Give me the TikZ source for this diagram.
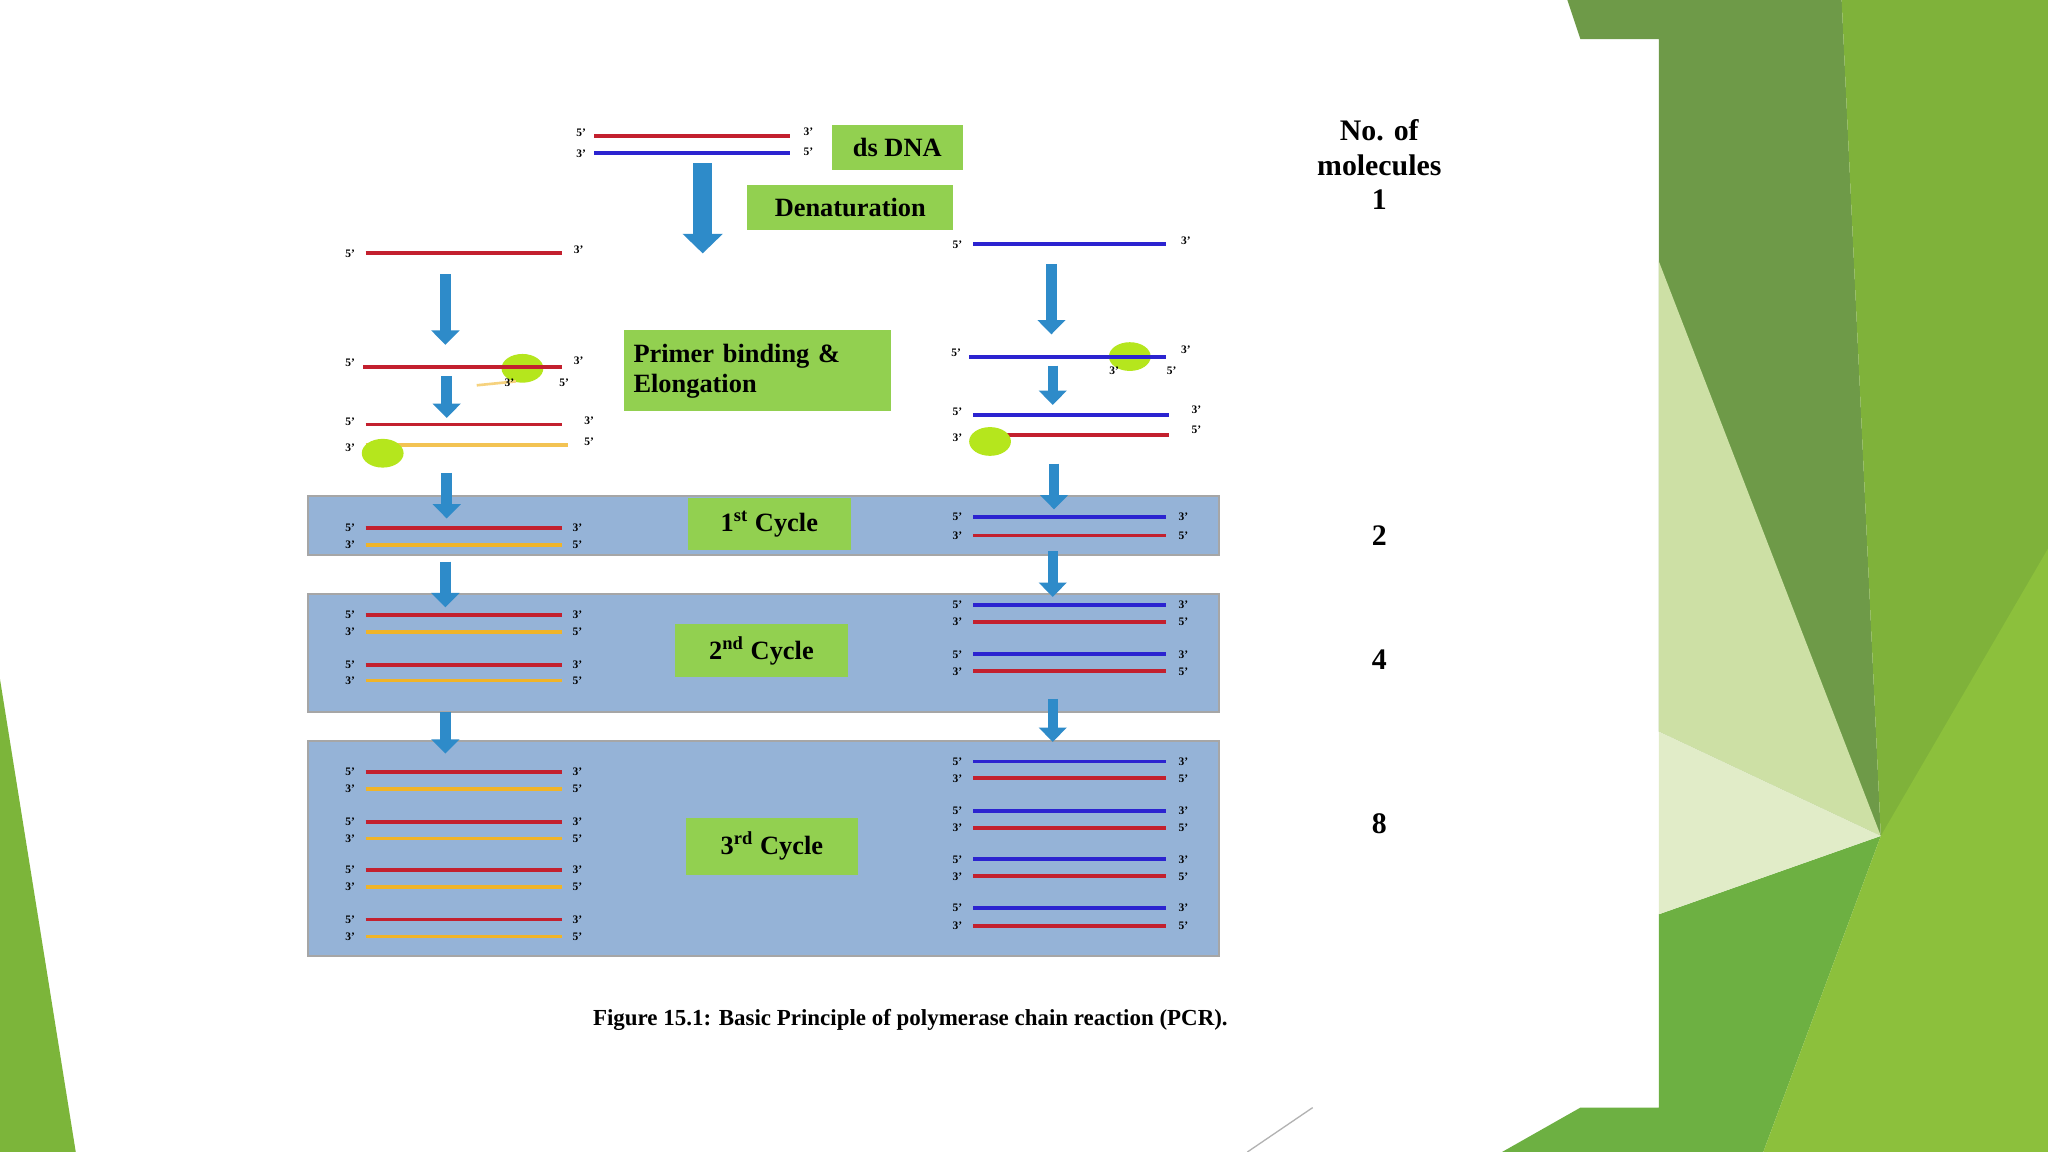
\documentclass[tikz,border=0pt]{standalone}
\usepackage{fontspec}
\setmainfont{Liberation Serif}
\usetikzlibrary{arrows.meta}
\definecolor{sred}{HTML}{C3202E}
\definecolor{sblue}{HTML}{2B23D0}
\definecolor{syel}{HTML}{F0B428}
\definecolor{lbl}{HTML}{92D050}
\definecolor{cyc}{HTML}{95B3D7}
\definecolor{arr}{HTML}{2E8BC9}
\definecolor{primer}{HTML}{B5E61D}
\definecolor{gA}{RGB}{124,181,58}
\definecolor{gB}{RGB}{110,154,72}
\definecolor{gC}{RGB}{127,178,58}
\definecolor{gD}{RGB}{205,224,165}
\definecolor{gE}{RGB}{109,176,66}
\definecolor{gF}{RGB}{140,192,60}
\definecolor{gG}{RGB}{225,236,200}
\tikzset{
 st/.style={line width=0.06cm},
 tag/.style={font=\bfseries\fontsize{5}{5}\selectfont,inner sep=0pt},
 lab/.style={fill=lbl,font=\bfseries\fontsize{11.5}{13}\selectfont,inner sep=0pt,align=left},
 dn/.style={arr,line width=0.16cm,-{Triangle[width=0.42cm,length=0.22cm]}},
 cbox/.style={fill=cyc,draw=gray!70,line width=0.03cm},
 prim/.style={fill=primer,draw=none},
 num/.style={font=\bfseries\fontsize{13}{15}\selectfont,align=center}
}
\newcommand\strnd[4]{\draw[st,#4] (#1,#3) -- (#2,#3);}
\newcommand\lpr[2]{\strnd{280}{430}{#1}{sred}\strnd{280}{430}{#2}{syel}
 \node[tag] at (268,#1) {5'};\node[tag] at (268,#2) {3'};
 \node[tag] at (442,#1) {3'};\node[tag] at (442,#2) {5'};}
\newcommand\rpr[2]{\strnd{745}{893}{#1}{sblue}\strnd{745}{893}{#2}{sred}
 \node[tag] at (733,#1) {5'};\node[tag] at (733,#2) {3'};
 \node[tag] at (906,#1) {3'};\node[tag] at (906,#2) {5'};}
\begin{document}
\begin{tikzpicture}[x=0.02cm,y=-0.02cm]
\useasboundingbox (0,0) rectangle (1568,882);
\fill[white] (0,0) rectangle (1568,882);
% decorations
\fill[gA] (0,520) -- (58,882) -- (0,882) -- cycle;
\fill[gB] (1200,0) -- (1410,0) -- (1440,640) -- (1270,560) -- (1270,30) -- (1210,30) -- cycle;
\fill[gC] (1410,0) -- (1568,0) -- (1568,882) -- (1440,640) -- cycle;
\fill[gD] (1270,200) -- (1440,640) -- (1270,560) -- cycle;
\fill[gE] (1270,700) -- (1440,640) -- (1350,882) -- (1150,882) -- (1210,848) -- (1270,848) -- cycle;
\fill[gF] (1440,640) -- (1568,420) -- (1568,882) -- (1350,882) -- cycle;
\fill[gG] (1270,560) -- (1440,640) -- (1270,700) -- cycle;
\draw[gray!60,line width=0.02cm] (955,882) -- (1005,848);
% cycle boxes
\filldraw[cbox] (236,380) rectangle (933,425);
\filldraw[cbox] (236,455) rectangle (933,545);
\filldraw[cbox] (236,567) rectangle (933,732);
% top ds DNA
\strnd{455}{605}{104}{sred}\strnd{455}{605}{117}{sblue}
\node[tag] at (445,102){5'};\node[tag] at (445,118){3'};
\node[tag] at (619,101){3'};\node[tag] at (619,116){5'};
\node[lab,minimum width=2cm,minimum height=0.68cm,align=center] (ds) at (687,113) {ds DNA};
\node[lab,minimum width=3.16cm,minimum height=0.68cm,align=center] (den) at (651,159) {Denaturation};
\coordinate (b1) at (538,125); \coordinate (b2) at (538,194);
\draw[arr,line width=0.3cm,-{Triangle[width=0.6cm,length=0.3cm]}] (b1) -- (b2);
% single strands
\strnd{280}{430}{194}{sred}\node[tag] at (268,194){5'};\node[tag] at (443,191){3'};
\strnd{745}{893}{187}{sblue}\node[tag] at (733,187){5'};\node[tag] at (908,184){3'};
\node[lab,minimum width=4.08cm,minimum height=1.24cm,text width=3.8cm] (pb) at (580,284) {Primer binding \&\\Elongation};
% primer binding
\fill[prim] (400,282) ellipse (16 and 11);
\strnd{278}{430}{281}{sred}\node[tag] at (268,278){5'};\node[tag] at (443,276){3'};
\draw[syel!60,line width=0.04cm] (365,295) -- (395,292);
\node[tag] at (390,293){3'};\node[tag] at (432,293){5'};
\fill[prim] (865,273) ellipse (16 and 11);
\strnd{742}{893}{273}{sblue}\node[tag] at (732,270){5'};\node[tag] at (908,268){3'};
\node[tag] at (853,284){3'};\node[tag] at (897,284){5'};
% elongation
\strnd{280}{430}{325}{sred}\strnd{280}{435}{341}{syel!80}
\node[tag] at (268,323){5'};\node[tag] at (268,343){3'};
\node[tag] at (451,322){3'};\node[tag] at (451,338){5'};
\fill[prim] (293,347) ellipse (16 and 11);
\strnd{745}{895}{318}{sblue}\strnd{745}{895}{333}{sred}
\node[tag] at (733,315){5'};\node[tag] at (733,335){3'};
\node[tag] at (916,314){3'};\node[tag] at (916,329){5'};
\fill[prim] (758,338) ellipse (16 and 11);
% cycles content
\node[lab,minimum width=2.5cm,minimum height=0.8cm,align=center] (c1) at (589,401) {1\textsuperscript{st} Cycle};
\lpr{404}{417}\rpr{396}{410}
\node[lab,minimum width=2.66cm,minimum height=0.8cm,align=center] (c2) at (583,498) {2\textsuperscript{nd} Cycle};
\lpr{471}{484}\lpr{509}{521}\rpr{463}{476}\rpr{501}{514}
\node[lab,minimum width=2.64cm,minimum height=0.88cm,align=center] (c3) at (591,648) {3\textsuperscript{rd} Cycle};
\lpr{591}{604}\lpr{629}{642}\lpr{666}{679}\lpr{704}{717}
\rpr{583}{596}\rpr{621}{634}\rpr{658}{671}\rpr{695}{709}
% arrows
\coordinate (la1) at (341,210);\coordinate (la2) at (341,264);\draw[dn] (la1)--(la2);
\coordinate (ra1) at (805,202);\coordinate (ra2) at (805,256);\draw[dn] (ra1)--(ra2);
\coordinate (la3) at (342,288);\coordinate (la4) at (342,320);\draw[dn] (la3)--(la4);
\coordinate (ra3) at (806,280);\coordinate (ra4) at (806,310);\draw[dn] (ra3)--(ra4);
\coordinate (la5) at (342,362);\coordinate (la6) at (342,397);\draw[dn] (la5)--(la6);
\coordinate (ra5) at (807,355);\coordinate (ra6) at (807,390);\draw[dn] (ra5)--(ra6);
\coordinate (la7) at (341,430);\coordinate (la8) at (341,465);\draw[dn] (la7)--(la8);
\coordinate (ra7) at (806,422);\coordinate (ra8) at (806,457);\draw[dn] (ra7)--(ra8);
\coordinate (la9) at (341,545);\coordinate (la10) at (341,577);\draw[dn] (la9)--(la10);
\coordinate (ra9) at (806,535);\coordinate (ra10) at (806,568);\draw[dn] (ra9)--(ra10);
% numbers
\node[num] (n0) at (1056,126) {No. of\\molecules\\1};
\node[num] (n2) at (1056,410) {2};
\node[num] (n4) at (1056,505) {4};
\node[num] (n8) at (1056,631) {8};
\node[font=\bfseries\fontsize{10}{11}\selectfont] (cap) at (697,781) {Figure 15.1: Basic Principle of polymerase chain reaction (PCR).};
\end{tikzpicture}
\end{document}
